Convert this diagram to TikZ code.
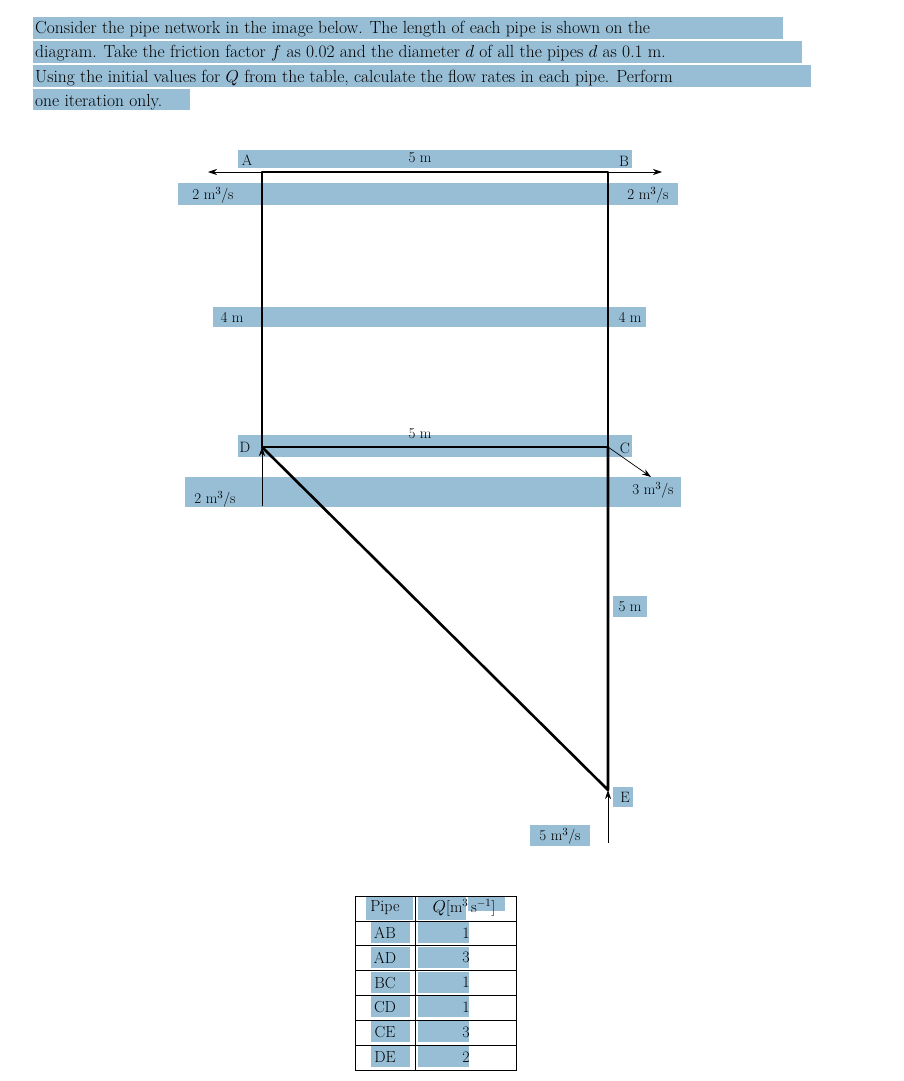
\documentclass[tikz,border=0pt]{standalone}
\usetikzlibrary{arrows.meta}
\definecolor{hl}{RGB}{152,190,214}
\begin{document}
\begin{tikzpicture}[x=1pt,y=-1pt,
  band/.style={fill=hl,draw=none},
  pipe/.style={line width=2.6pt,line cap=round,line join=round},
  flow/.style={line width=0.7pt,-{Stealth[length=9pt,width=6pt]}},
  lab/.style={font=\fontsize{15}{18}\selectfont,inner sep=0pt},
  para/.style={font=\fontsize{17.5}{24}\selectfont,inner sep=0pt,anchor=base west},
  cell/.style={font=\fontsize{16}{20}\selectfont,inner sep=0pt}]
\useasboundingbox (0,0) rectangle (903,1081);
% highlight bands
\fill[band] (33,17) rectangle (783,39);
\fill[band] (33,41) rectangle (802,63);
\fill[band] (33,65) rectangle (811,87);
\fill[band] (33,89) rectangle (190,110);
\fill[band] (238,150) rectangle (632,168);
\fill[band] (178,183) rectangle (678,205);
\fill[band] (213,307) rectangle (646,327);
\fill[band] (238,435) rectangle (632,457);
\fill[band] (185,477) rectangle (681,507);
\fill[band] (613,596) rectangle (647,617);
\fill[band] (613,787) rectangle (633,807);
\fill[band] (530,825) rectangle (590,846);
\fill[band] (366,897) rectangle (413,920);
\fill[band] (418,897) rectangle (466,920);
\fill[band] (468,897) rectangle (505,911);
\foreach \r in {0,...,5}{
  \fill[band] (371,{922+24.8*\r}) rectangle (410,{943+24.8*\r});
  \fill[band] (418,{922+24.8*\r}) rectangle (469,{943+24.8*\r});
}
% paragraph
\node[para] (l1) at (35,34) {Consider the pipe network in the image below. The length of each pipe is shown on the};
\node[para] (l2) at (35,58) {diagram. Take the friction factor $f$ as 0.02 and the diameter $d$ of all the pipes $d$ as 0.1 m.};
\node[para] (l3) at (35,82) {Using the initial values for $Q$ from the table, calculate the flow rates in each pipe. Perform};
\node[para] (l4) at (35,106) {one iteration only.};
% junctions
\coordinate (A) at (262,172);
\coordinate (B) at (608,172);
\coordinate (D) at (262,447);
\coordinate (C) at (608,447);
\coordinate (E) at (608,790);
\draw[pipe] (A) -- (B) -- (C) -- (D) -- cycle;
\draw[pipe] (D) -- (E) -- (C);
% flows
\coordinate (Aout) at (208,172);
\coordinate (Bout) at (662,172);
\coordinate (Din) at (262,506);
\coordinate (Cout) at (651,477);
\coordinate (Ein) at (608,843);
\draw[flow] (A) -- (Aout);
\draw[flow] (B) -- (Bout);
\draw[flow] (Din) -- (D);
\draw[flow] (C) -- (Cout);
\draw[flow] (Ein) -- (E);
% labels
\node[lab] (lA) at (247,160) {A};
\node[lab] (lB) at (624,161) {B};
\node[lab] (lD) at (245,447) {D};
\node[lab] (lC) at (625,448) {C};
\node[lab] (lE) at (625,797) {E};
\node[lab] (ab) at (420,158) {5 m};
\node[lab] (dc) at (420,434) {5 m};
\node[lab] (ad) at (232,317) {4 m};
\node[lab] (bc) at (630,317) {4 m};
\node[lab] (ce) at (630,607) {5 m};
\node[lab] (qa) at (213,195) {2 m$^3$/s};
\node[lab] (qb) at (648,195) {2 m$^3$/s};
\node[lab] (qd) at (215,499) {2 m$^3$/s};
\node[lab] (qc) at (653,490) {3 m$^3$/s};
\node[lab] (qe) at (560,836) {5 m$^3$/s};
% table
\draw[line width=0.7pt] (355,896) rectangle (516,1070);
\draw[line width=0.7pt] (415,896) -- (415,1070);
\foreach \r in {1,...,6}{\draw[line width=0.6pt] (355,{896+24.8*\r}) -- (516,{896+24.8*\r});}
\node[cell] (h1) at (385,908) {Pipe};
\node[cell] (h2) at (464,908) {$Q$[m$^3$\,s$^{-1}$]};
\foreach \p/\q [count=\i from 0] in {AB/1,AD/3,BC/1,CD/1,CE/3,DE/2}{
  \node[cell] (p\i) at (385,{933+24.8*\i}) {\p};
  \node[cell,anchor=east] (q\i) at (470,{933+24.8*\i}) {\q};
}
\end{tikzpicture}
\end{document}
